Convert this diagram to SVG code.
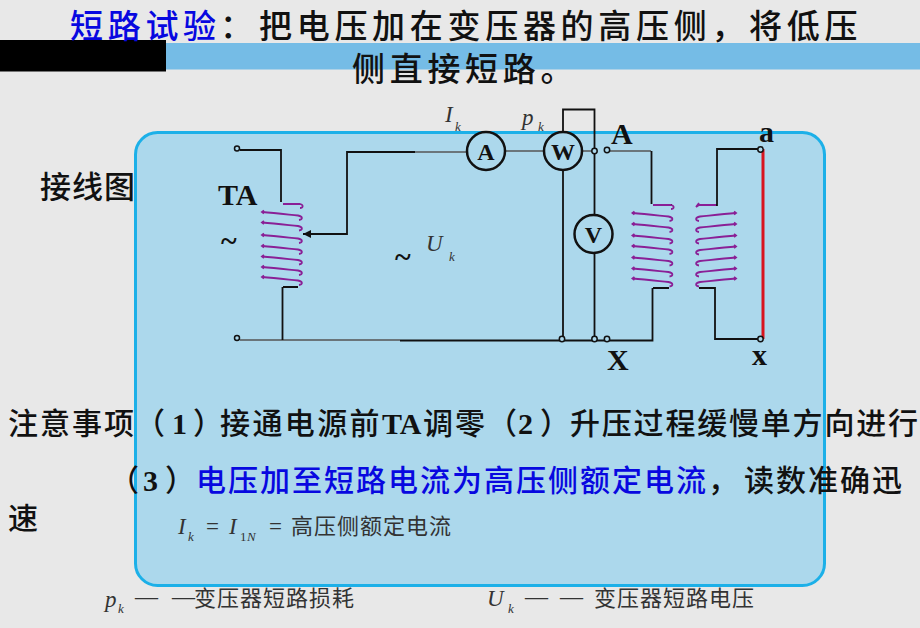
<svg xmlns="http://www.w3.org/2000/svg" xmlns:xlink="http://www.w3.org/1999/xlink" width="920" height="628" viewBox="0 0 920 628">
<style>
text{font-family:"Liberation Serif","Noto Sans CJK SC",serif;fill:#111}
.cn{font-family:"Noto Sans CJK SC","Liberation Sans",sans-serif;font-weight:500}
.t{font-size:33px;letter-spacing:4.700px}
.b{font-size:30px;letter-spacing:2px}
.m{font-size:30px;font-weight:700;font-family:"Liberation Serif",serif;letter-spacing:0}
.blue{fill:#0808E0}
.s{font-family:"Noto Sans CJK SC","Liberation Sans",sans-serif;font-size:22px;letter-spacing:1px;fill:#333;font-weight:400}
.i{font-style:italic;font-size:23px;fill:#333}
.k{font-style:italic;font-size:13px;fill:#333}
.o{font-size:23px;fill:#333}
.lab{font-weight:700;font-size:30px}
.mt{font-weight:700;font-size:24px;text-anchor:middle}
.w{fill:none;stroke:#111;stroke-width:1.8}
.g{fill:none;stroke:#555;stroke-width:1.6}
.c{fill:#ACD8EC;stroke:#111;stroke-width:1.5}
.mc{fill:#ACD8EC;stroke:#111;stroke-width:2.5}
.coil{fill:none;stroke:#8A1F96;stroke-width:1.800}
</style>
<defs>
<marker id="ah" markerWidth="9" markerHeight="8" refX="8" refY="4" orient="auto" markerUnits="userSpaceOnUse"><path d="M0 0L8 4L0 8Z" fill="#111"/></marker>
<path id="turn" d="M2 1.500L0 0L2 -1.500M0 0C14 1 26 2.500 36 3.500C41 4.500 41 7.500 37 8"/>
<path id="turnr" d="M39 1.500L41 0L39 -1.500M41 0C27 1 15 2.500 5 3.500C0 4.500 0 7.500 4 8"/>
</defs>
<rect width="920" height="628" fill="#E8E8E8"/>
<rect x="166" y="43" width="754" height="26.500" fill="#75BCE6"/>
<rect x="0" y="40" width="166" height="31.500" fill="#000"/>
<g id="bottom-labels">
<text class="i" x="105" y="607">p</text><text class="k" x="118" y="613">k</text>
<text class="o" x="135" y="604" textLength="60" xml:space="preserve">— —</text>
<text class="s" x="194" y="606">变压器短路损耗</text>
<text class="i" x="487" y="606">U</text><text class="k" x="508" y="613">k</text>
<text class="o" x="525" y="604" textLength="58" xml:space="preserve">— —</text>
<text class="s" x="594" y="606">变压器短路电压</text>
</g>
<rect id="panel" x="135.500" y="132.500" width="689" height="453" rx="22" fill="#ACD8EC" stroke="#1CB0E8" stroke-width="3"/>
<g id="title">
<text class="cn t" y="38"><tspan class="blue" x="70">短路试验</tspan><tspan x="220">：</tspan><tspan x="259">把电压加在变压器的高压侧，将低压</tspan></text>
<text class="cn t" x="352" y="81">侧直接短路。</text>
<text class="cn" x="40" y="198" font-size="31" letter-spacing="1">接线图</text>
</g>
<g id="connectors">
<path class="w" d="M240 150H281V202M283 204H300"/>
<path class="g" d="M240 340H400"/>
<path class="w" d="M400 340.500H652.500V288M653 288H669"/>
<path class="w" d="M283 287H298M282.500 287V340"/>
<path class="w" d="M415 152H347V234H303" marker-end="url(#ah)"/>
<path class="g" d="M415 152H466M505 151H544M582 151H592M609 151H651"/>
<path class="w" d="M651.500 151V204M653 205H672"/>
<path class="w" d="M563 132V109.500H594.500V215M594.500 253V339" stroke-width="1.400"/>
<path class="w" d="M563 170V339"/>
<path class="w" d="M760 149H717V205H697M699 288H715V339H760"/>
<path d="M763 149V339" fill="none" stroke="#D8141E" stroke-width="3"/>
</g>
<g id="node-ta">
<g class="coil">
<path d="M283 204H300C304 205 303 208 300 208"/>
<use xlink:href="#turn" x="262" y="212"/><use xlink:href="#turn" x="262" y="222.500"/><use xlink:href="#turn" x="262" y="235"/><use xlink:href="#turn" x="262" y="246"/><use xlink:href="#turn" x="262" y="256.500"/><use xlink:href="#turn" x="262" y="267"/><use xlink:href="#turn" x="262" y="277"/>
</g>
<text class="lab" x="218" y="205">TA</text>
<text class="lab" x="221" y="251">~</text>
</g>
<g id="node-source"><text class="lab" x="395" y="267">~</text><text class="i" x="426" y="251">U</text><text class="k" x="449" y="261">k</text></g>
<g id="node-ammeter"><circle class="mc" cx="486" cy="151" r="19"/><text class="mt" x="486" y="160">A</text><text class="i" x="445" y="122">I</text><text class="k" x="455" y="131">k</text></g>
<g id="node-wattmeter"><circle class="mc" cx="563" cy="151" r="19"/><text class="mt" x="563" y="160">W</text><text class="i" x="522" y="125">p</text><text class="k" x="538" y="131">k</text></g>
<g id="node-voltmeter"><circle class="mc" cx="593.500" cy="234" r="19"/><text class="mt" x="593.500" y="243">V</text></g>
<g id="node-terminals">
<circle class="c" cx="237" cy="148.500" r="2.500"/><circle class="c" cx="237" cy="338" r="2.500"/>
<circle class="c" cx="594.500" cy="151" r="2.700"/><circle class="c" cx="607" cy="150" r="2.700"/>
<circle class="c" cx="562" cy="339" r="2.700"/><circle class="c" cx="594.500" cy="339" r="2.700"/><circle class="c" cx="607" cy="339" r="2.700"/>
<circle class="c" cx="760.500" cy="149.500" r="2.700"/><circle class="c" cx="760.500" cy="339" r="2.700"/>
</g>
<g id="node-primary">
<g class="coil">
<path d="M653 205H671C675 206 674 209 671 209"/>
<use xlink:href="#turn" x="632.500" y="213"/><use xlink:href="#turn" x="632.500" y="224"/><use xlink:href="#turn" x="632.500" y="235.500"/><use xlink:href="#turn" x="632.500" y="246"/><use xlink:href="#turn" x="632.500" y="257.500"/><use xlink:href="#turn" x="632.500" y="268.500"/><use xlink:href="#turn" x="632.500" y="278.500"/>
</g>
<text class="lab" x="611" y="144">A</text><text class="lab" x="607" y="370">X</text>
</g>
<g id="node-secondary">
<g class="coil">
<path d="M716 205H699L696 207M699 203L696 207"/>
<use xlink:href="#turnr" x="695" y="213"/><use xlink:href="#turnr" x="695" y="224"/><use xlink:href="#turnr" x="695" y="235.500"/><use xlink:href="#turnr" x="695" y="246.500"/><use xlink:href="#turnr" x="695" y="257.500"/><use xlink:href="#turnr" x="695" y="268.500"/><use xlink:href="#turnr" x="695" y="278.500"/>
</g>
<text class="lab" x="759" y="142">a</text><text class="lab" x="752" y="365">x</text>
</g>
<g id="notes">
<text class="cn b" y="434"><tspan x="8">注意事项</tspan><tspan x="135">（</tspan><tspan class="m" x="172">1</tspan><tspan x="193">）</tspan><tspan x="220" letter-spacing="2.400">接通电源前</tspan><tspan class="m" x="382">TA</tspan><tspan x="423">调零</tspan><tspan x="487">（</tspan><tspan class="m" x="518">2</tspan><tspan x="540">）</tspan><tspan x="570" letter-spacing="1.800">升压过程缓慢单方向进行</tspan></text>
<text class="cn b" y="491"><tspan x="109">（</tspan><tspan class="m" x="143">3</tspan><tspan x="165">）</tspan><tspan class="blue" x="196">电压加至短路电流为高压侧额定电流</tspan><tspan x="708">，</tspan><tspan x="744">读数准确迅</tspan></text>
<text class="cn" x="8" y="529" font-size="30">速</text>
<text class="i" x="178" y="534">I</text><text class="k" x="188" y="541">k</text><text class="o" x="206" y="534">=</text>
<text class="i" x="229" y="534">I</text><text class="k" x="240" y="541" style="font-style:normal">1</text><text class="k" x="247" y="541">N</text><text class="o" x="269" y="534">=</text>
<text class="s" x="291" y="534">高压侧额定电流</text>
</g>
</svg>
